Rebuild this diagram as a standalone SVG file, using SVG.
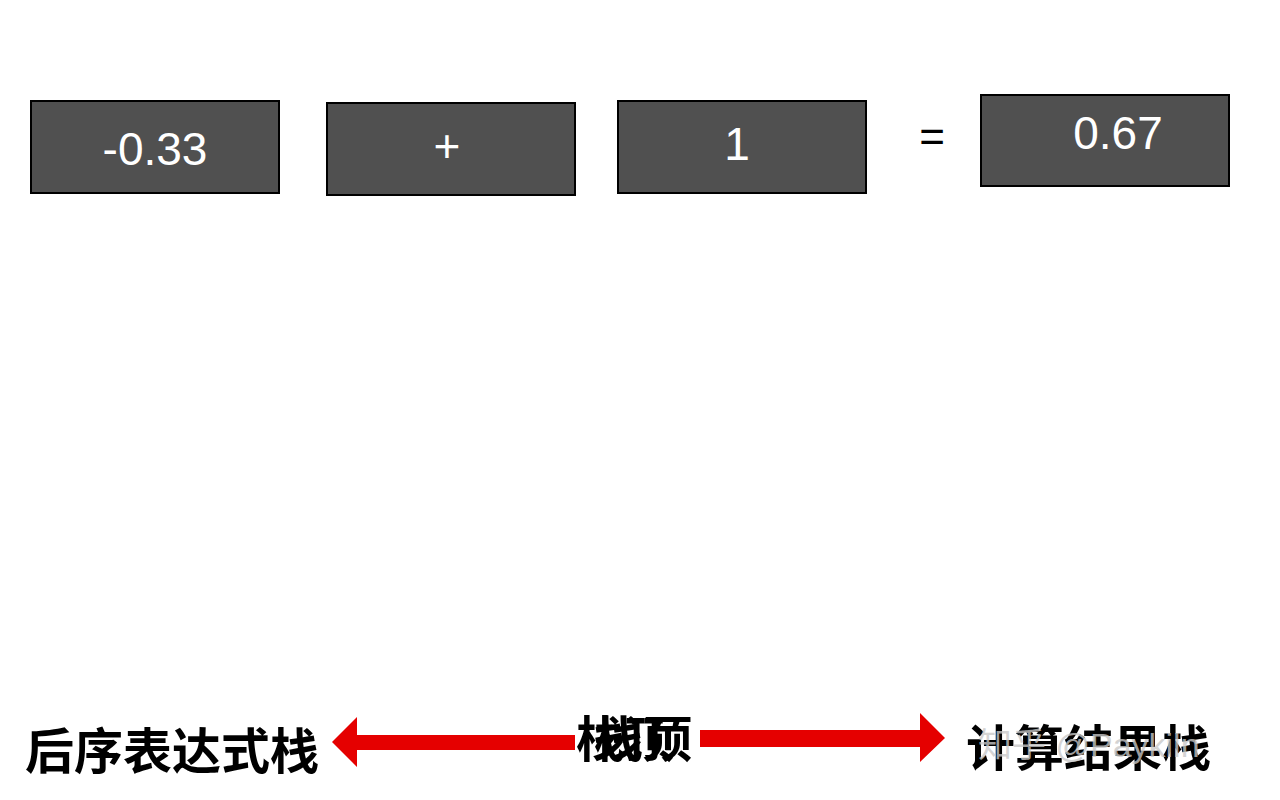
<svg xmlns="http://www.w3.org/2000/svg" width="1280" height="800" viewBox="0 0 1280 800">
<style>
.box{fill:#505050;stroke:#000;stroke-width:2}
.bt{fill:#fff;font-family:"Liberation Sans",Arial,sans-serif;font-size:46px;text-anchor:middle}
.cn{fill:#000;font-family:"Liberation Sans","Noto Sans CJK SC",sans-serif;font-size:49px;font-weight:bold}
.arr{fill:#e50000}
</style>
<rect width="1280" height="800" fill="#fff"/>
<g id="n1"><rect class="box" x="31" y="101" width="248" height="92"/><text class="bt" x="155" y="165">-0.33</text></g>
<g id="n2"><rect class="box" x="327" y="103" width="248" height="92"/><text class="bt" x="447" y="162">+</text></g>
<g id="n3"><rect class="box" x="618" y="101" width="248" height="92"/><text class="bt" x="737" y="160">1</text></g>
<text x="932" y="152" font-family="Liberation Sans,sans-serif" font-size="44" text-anchor="middle">=</text>
<g id="n4"><rect class="box" x="981" y="95" width="248" height="91"/><text class="bt" x="1118" y="149">0.67</text></g>
<g id="connectors">
<polygon class="arr" points="332,742 357,717 357,735 575,735 575,750 357,750 357,767"/>
<polygon class="arr" points="945,738 920,713 920,730 700,730 700,747 920,747 920,762"/>
</g>
<text class="cn" x="25" y="769">后序表达式栈</text>
<text class="cn" x="576" y="757" font-size="46">栈顶</text>
<text class="cn" x="594" y="757" font-size="46">栈顶</text>
<text class="cn" x="966" y="766">计算结果栈</text>
<text x="978" y="757" font-family="Liberation Sans,'Noto Sans CJK SC',sans-serif" font-size="34" fill="#c8c8c8" fill-opacity="0.8">知乎 @Paykiln</text>
</svg>
